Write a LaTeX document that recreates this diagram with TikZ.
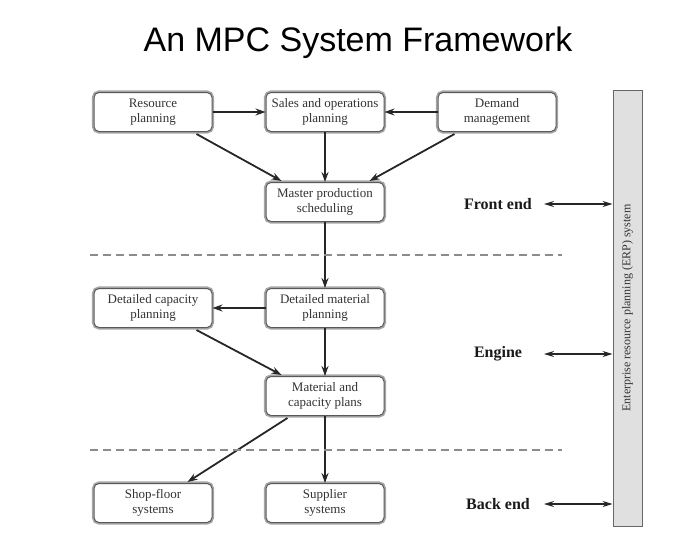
\documentclass[tikz,border=0pt]{standalone}
\usepackage{fontspec}
\setmainfont{Liberation Serif}
\newfontfamily\titlefont{Liberation Sans}
\usetikzlibrary{arrows.meta}
\begin{document}
\begin{tikzpicture}[x=1pt,y=-1pt,
  box/.style={draw=black!65, line width=1pt, rounded corners=5pt, fill=white,
    preaction={draw=black!35, line width=4.2pt},
    minimum width=118pt, minimum height=39pt, align=center, text=black!80,
    font=\fontsize{13}{15}\selectfont, inner sep=1pt},
  conn/.style={line width=1.8pt, draw=black!85, -{Stealth[length=10pt,width=7pt]}},
  biarrow/.style={line width=1.6pt, draw=black!85, {Stealth[length=10pt,width=6pt]}-{Stealth[length=10pt,width=6pt]}},
  sep/.style={draw=black!45, line width=1.2pt, dash pattern=on 8pt off 5pt},
  lab/.style={font=\fontsize{16}{18}\selectfont\bfseries, text=black!90},
]
\useasboundingbox (0,0) rectangle (700,536);
\node[font=\titlefont\fontsize{34}{38}\selectfont] (title) at (358,43) {An MPC System Framework};

\node[box] (rp) at (153,112) {Resource\\planning};
\node[box] (sop) at (325,112) {Sales and operations\\planning};
\node[box] (dm) at (497,112) {Demand\\management};
\node[box] (mps) at (325,202) {Master production\\scheduling};
\node[box] (dcp) at (153,308) {Detailed capacity\\planning};
\node[box] (dmp) at (325,308) {Detailed material\\planning};
\node[box] (mcp) at (325,396) {Material and\\capacity plans};
\node[box] (sfs) at (153,503) {Shop-floor\\systems};
\node[box] (ss) at (325,503) {Supplier\\systems};

\draw[conn] (rp) -- (sop);
\draw[conn] (dm) -- (sop);
\draw[conn] ([xshift=-16pt,yshift=-2pt]rp.south east) -- ([xshift=16pt,yshift=1pt]mps.north west);
\draw[conn] (sop) -- (mps);
\draw[conn] ([xshift=17pt,yshift=-2pt]dm.south west) -- ([xshift=-15pt,yshift=1pt]mps.north east);
\draw[conn] (mps) -- (dmp);
\draw[conn] (dmp) -- (dcp);
\draw[conn] ([xshift=-16pt,yshift=-2pt]dcp.south east) -- ([xshift=16pt,yshift=1pt]mcp.north west);
\draw[conn] (dmp) -- (mcp);
\draw[conn] ([xshift=22pt,yshift=-2pt]mcp.south west) -- ([xshift=-25pt,yshift=1pt]sfs.north east);
\draw[conn] (mcp) -- (ss);

\coordinate (d1a) at (90,255); \coordinate (d1b) at (562,255);
\coordinate (d2a) at (90,450); \coordinate (d2b) at (562,450);
\draw[sep] (d1a) -- (d1b);
\draw[sep] (d2a) -- (d2b);

\node[draw=black!60, fill=black!12, line width=0.9pt, minimum width=29pt, minimum height=436pt, inner sep=0pt] (erp) at (627.5,308) {};
\node[rotate=90, font=\fontsize{12}{14}\selectfont, text=black!80] (erpt) at (627.5,308) {Enterprise resource planning (ERP) system};

\node[lab] (fe) at (498,204) {Front end};
\node[lab] (en) at (498,354) {Engine};
\node[lab] (be) at (498,504) {Back end};
\coordinate (fe1) at (544,204); \coordinate (fe2) at (erp.west |- fe1);
\coordinate (en1) at (544,354); \coordinate (en2) at (erp.west |- en1);
\coordinate (be1) at (544,504); \coordinate (be2) at (erp.west |- be1);
\draw[biarrow] (fe1) -- (fe2);
\draw[biarrow] (en1) -- (en2);
\draw[biarrow] (be1) -- (be2);
\end{tikzpicture}
\end{document}
